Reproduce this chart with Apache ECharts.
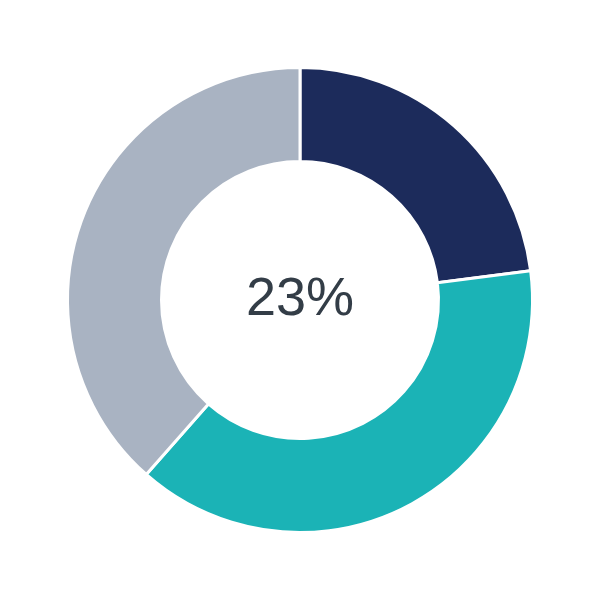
<!DOCTYPE html>
<html>
<head>
<meta charset="utf-8">
<script src="https://cdn.jsdelivr.net/npm/echarts@6/dist/echarts.min.js"></script>
<style>html,body{margin:0;padding:0;background:#fff;}#c{width:600px;height:600px;}</style>
</head>
<body>
<div id="c"></div>
<script>
const categories = ['A', 'B', 'C'];
const values = [23, 38.5, 38.5];
const colors = ['#1c2b5b', '#1bb3b6', '#a9b3c2'];
const centerLabel = '23%';

const chart = echarts.init(document.getElementById('c'), null, {renderer: 'canvas'});
chart.setOption({
  backgroundColor: '#ffffff',
  animation: false,
  graphic: [{
    type: 'text',
    left: 'center',
    top: 'middle',
    style: {
      text: centerLabel,
      fontSize: 54,
      fontFamily: 'Liberation Sans, Arial, sans-serif',
      fill: '#333d47',
      textAlign: 'center',
      textVerticalAlign: 'middle'
    },
    x: 300, y: 297
  }],
  series: [{
    type: 'pie',
    center: [300, 300],
    radius: [138.5, 232.5],
    startAngle: 90,
    clockwise: true,
    label: {show: false},
    labelLine: {show: false},
    emphasis: {disabled: true},
    itemStyle: {borderColor: '#ffffff', borderWidth: 3},
    data: categories.map((c, i) => ({name: c, value: values[i], itemStyle: {color: colors[i]}}))
  }]
});
</script>
</body>
</html>
